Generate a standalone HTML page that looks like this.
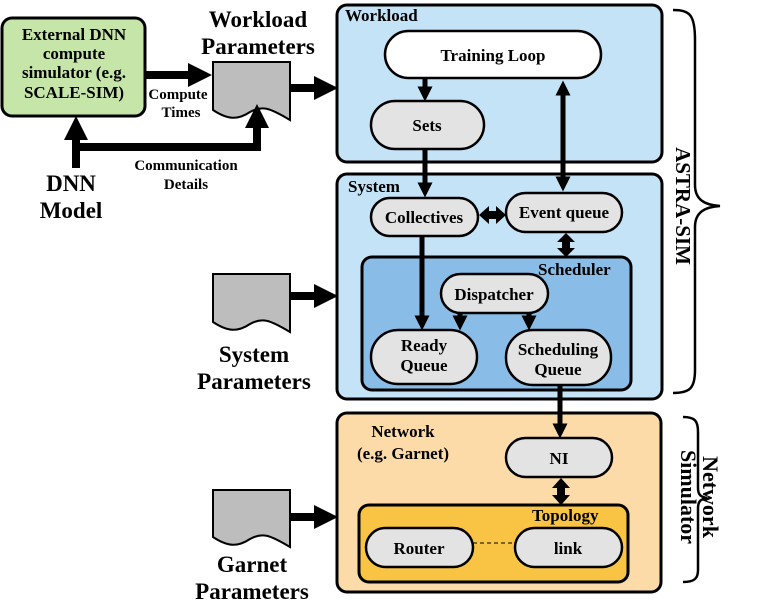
<!DOCTYPE html>
<html><head><style>
html,body{margin:0;padding:0;background:#fff;}
svg{display:block;}
text{font-family:"Liberation Serif",serif;font-weight:bold;fill:#000;}
</style></head><body>
<svg width="767" height="608" viewBox="0 0 767 608" xmlns="http://www.w3.org/2000/svg">
<defs>
<marker id="ah" markerWidth="3" markerHeight="3" refX="1.5" refY="1.5" orient="auto" markerUnits="strokeWidth"><path d="M0,0 L3,1.5 L0,3 Z" fill="#000"/></marker>
<marker id="ahs" markerWidth="3" markerHeight="3" refX="1.5" refY="1.5" orient="auto-start-reverse" markerUnits="strokeWidth"><path d="M0,0 L3,1.5 L0,3 Z" fill="#000"/></marker>
</defs>
<g stroke="#000" stroke-width="3">
<rect x="337" y="5" width="325" height="157" rx="10" fill="#c5e3f6"/>
<rect x="337" y="174" width="325" height="225" rx="10" fill="#c5e3f6"/>
<rect x="362" y="257" width="269" height="133" rx="10" fill="#89bde7"/>
<rect x="337" y="413" width="324" height="179" rx="10" fill="#fddba9"/>
<rect x="359" y="505" width="269" height="77" rx="10" fill="#f9c344"/>
<rect x="2" y="18" width="143" height="98" rx="10" fill="#c6e6a9"/>
</g>
<g stroke="#000" stroke-width="2.5" fill="#e3e3e3">
<rect x="385" y="31" width="216" height="47" rx="23.5" fill="#fff"/>
<rect x="371" y="101" width="113" height="48" rx="24"/>
<rect x="371" y="198" width="107" height="38" rx="19"/>
<rect x="506" y="193" width="116" height="39" rx="19.5"/>
<rect x="441" y="274" width="107" height="39" rx="19.5"/>
<rect x="371" y="330" width="106" height="54" rx="27"/>
<rect x="506" y="330" width="105" height="55" rx="27"/>
<rect x="506" y="438" width="106" height="39" rx="19.5"/>
<rect x="366" y="528" width="107" height="39" rx="19.5"/>
<rect x="515" y="528" width="107" height="39" rx="19.5"/>
</g>
<line x1="473" y1="543" x2="515" y2="543" stroke="#000" stroke-width="1" stroke-dasharray="4,3"/>
<g stroke="#000" stroke-width="2" fill="#bdbdbd">
<path d="M213,62 H290 V120 C270,108 262,105 250,112 C238,120 228,120 213,110 Z"/>
<path d="M213,274 H290 V332 C270,320 262,317 250,324 C238,332 228,332 213,322 Z"/>
<path d="M213,490 H290 V547 C270,535 262,532 250,539 C238,547 228,547 213,537 Z"/>
</g>
<g stroke="#000" fill="none">
<line x1="146" y1="75" x2="200" y2="75" stroke-width="8" marker-end="url(#ah)"/>
<line x1="290" y1="88" x2="326" y2="88" stroke-width="8" marker-end="url(#ah)"/>
<line x1="290" y1="296" x2="326" y2="296" stroke-width="8" marker-end="url(#ah)"/>
<line x1="290" y1="517" x2="326" y2="517" stroke-width="8" marker-end="url(#ah)"/>
<path d="M76,168 V147 H257 V118" stroke-width="8"/>
<line x1="76" y1="150" x2="76" y2="128" stroke-width="8" marker-end="url(#ah)"/>
<line x1="257" y1="125" x2="257" y2="116" stroke-width="8" marker-end="url(#ah)"/>
<line x1="425" y1="78" x2="425" y2="94" stroke-width="5" marker-end="url(#ah)"/>
<line x1="425" y1="149" x2="425" y2="190" stroke-width="5" marker-end="url(#ah)"/>
<line x1="563" y1="88" x2="563" y2="184" stroke-width="5" marker-start="url(#ahs)" marker-end="url(#ah)"/>
<line x1="422" y1="236" x2="422" y2="323" stroke-width="5" marker-end="url(#ah)"/>
<line x1="460" y1="313" x2="460" y2="323" stroke-width="5" marker-end="url(#ah)"/>
<line x1="529" y1="313" x2="529" y2="323" stroke-width="5" marker-end="url(#ah)"/>
<line x1="560" y1="385" x2="560" y2="431" stroke-width="5" marker-end="url(#ah)"/>
<path d="M673,10 C690,10 695,15 695,40 V185 C695,200 705,205 720,206 C705,207 695,212 695,227 V370 C695,388 690,393 673,393" stroke-width="2.5"/>
<path d="M683,417 C695,417 698,421 698,432 V488 C698,495 701,497 707,498 C701,499 698,501 698,508 V570 C698,578 695,582 683,582" stroke-width="2.5"/>
</g>
<g fill="#000">
<polygon points="479,215 489,206 489,211 496,211 496,206 506,215 496,224 496,219 489,219 489,224"/>
<polygon points="566,233 575,242 570,242 570,248 575,248 566,257 557,248 562,248 562,242 557,242"/>
<polygon points="561,478 570,488 565,488 565,495 570,495 561,505 552,495 557,495 557,488 552,488"/>
</g>
<g font-size="17" text-anchor="middle">
<text x="74" y="40">External DNN</text>
<text x="74" y="59">compute</text>
<text x="74" y="78">simulator (e.g.</text>
<text x="74" y="98">SCALE-SIM)</text>
<text x="493" y="61">Training Loop</text>
<text x="427" y="131">Sets</text>
<text x="424" y="223">Collectives</text>
<text x="564" y="218">Event queue</text>
<text x="494" y="300">Dispatcher</text>
<text x="424" y="351">Ready</text>
<text x="424" y="371">Queue</text>
<text x="558" y="355">Scheduling</text>
<text x="558" y="375">Queue</text>
<text x="559" y="464">NI</text>
<text x="419" y="554">Router</text>
<text x="568" y="554">link</text>
<text x="403" y="437">Network</text>
<text x="403" y="459">(e.g. Garnet)</text>
</g>
<g font-size="17">
<text x="345" y="21">Workload</text>
<text x="348" y="192">System</text>
<text x="538" y="275">Scheduler</text>
<text x="532" y="521">Topology</text>
</g>
<g font-size="23" text-anchor="middle">
<text x="258" y="27">Workload</text>
<text x="258" y="54">Parameters</text>
<text x="254" y="362">System</text>
<text x="254" y="389">Parameters</text>
<text x="252" y="572">Garnet</text>
<text x="252" y="599">Parameters</text>
<text x="71" y="191">DNN</text>
<text x="71" y="218">Model</text>
</g>
<g font-size="15" text-anchor="middle">
<text x="178" y="99">Compute</text>
<text x="181" y="117">Times</text>
<text x="186" y="170">Communication</text>
<text x="186" y="189">Details</text>
</g>
<text font-size="21" text-anchor="middle" transform="translate(676,206) rotate(90)">ASTRA-SIM</text>
<text font-size="22" text-anchor="middle" transform="translate(703,497) rotate(90)">Network</text>
<text font-size="22" text-anchor="middle" transform="translate(681,497) rotate(90)">Simulator</text>
</svg>
</body></html>
